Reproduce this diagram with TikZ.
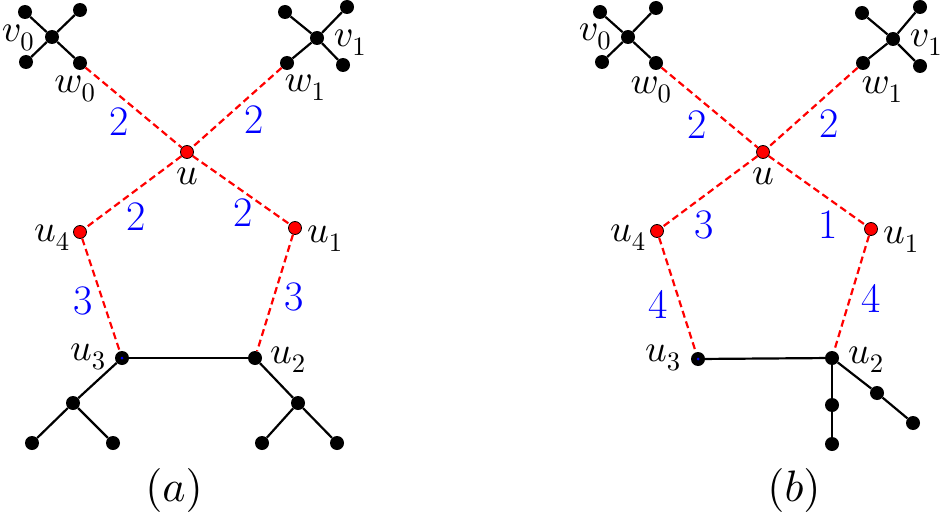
\documentclass[tikz,border=0pt]{standalone}
\DeclareFontFamily{OML}{cmm}{\skewchar\font127 }
\DeclareFontShape{OML}{cmm}{m}{it}{<->cmmi10}{}
\DeclareFontFamily{OT1}{cmr}{\hyphenchar\font45 }
\DeclareFontShape{OT1}{cmr}{m}{n}{<->cmr10}{}
\begin{document}
\begin{tikzpicture}[x=1pt,y=-1pt,
  bdot/.style={circle,fill=black,inner sep=0pt,minimum size=14pt},
  rdot/.style={circle,fill=red,draw=black,line width=0.8pt,inner sep=0pt,minimum size=13pt},
  bedge/.style={line width=2.2pt},
  redge/.style={red,line width=2.2pt,dash pattern=on 7pt off 4pt},
  lab/.style={font=\fontsize{38}{40}\selectfont,inner sep=0pt},
  num/.style={text=blue,font=\fontsize{42}{44}\selectfont,inner sep=0pt},
  sublab/.style={font=\fontsize{44}{46}\selectfont,inner sep=0pt}]
\useasboundingbox (0,0) rectangle (944,516);
% ---------------- panel (a)
\node[bdot] (av0) at (52,37) {};
\node[bdot] (av0a) at (25,12) {};
\node[bdot] (av0b) at (80,10) {};
\node[bdot] (av0c) at (26,62) {};
\node[bdot] (aw0) at (80,63) {};
\node[bdot] (av1) at (317,38) {};
\node[bdot] (av1a) at (285,12) {};
\node[bdot] (av1b) at (347,7) {};
\node[bdot] (aw1) at (287,63) {};
\node[bdot] (av1c) at (343,65) {};
\node[rdot] (au) at (187,152) {};
\node[rdot] (au4) at (80,232) {};
\node[rdot] (au1) at (295,228) {};
\node[bdot] (au3) at (122,358) {};
\node[bdot] (au2) at (255,358) {};
\node[bdot] (ac3) at (73,403) {};
\node[bdot] (al3a) at (32,443) {};
\node[bdot] (al3b) at (113,443) {};
\node[bdot] (ac2) at (298,403) {};
\node[bdot] (al2a) at (262,443) {};
\node[bdot] (al2b) at (337,443) {};
\fill[blue] (au3) circle (1.5pt);
\draw[bedge] (av0a) -- (av0) -- (aw0) (av0b) -- (av0) -- (av0c);
\draw[bedge] (av1a) -- (av1) -- (av1c) (av1b) -- (av1) -- (aw1);
\draw[bedge] (au3) -- (au2);
\draw[bedge] (au3) -- (ac3) -- (al3a) (ac3) -- (al3b);
\draw[bedge] (au2) -- (ac2) -- (al2a) (ac2) -- (al2b);
\draw[redge] (aw0) -- (au) (aw1) -- (au) (au) -- (au4) (au) -- (au1) (au4) -- (au3) (au1) -- (au2);
\node[lab] (lav0) at (18,38) {$v_0$};
\node[lab] (law0) at (75,89) {$w_0$};
\node[lab] (lav1) at (350,43) {$v_1$};
\node[lab] (law1) at (305,88) {$w_1$};
\node[lab] (lau) at (187,176) {$u$};
\node[lab] (lau4) at (52,238) {$u_4$};
\node[lab] (lau1) at (325,239) {$u_1$};
\node[lab] (lau3) at (88,357) {$u_3$};
\node[lab] (lau2) at (288,360) {$u_2$};
\node[num] (an1) at (119,122) {2};
\node[num] (an2) at (254,120) {2};
\node[num] (an3) at (136,217) {2};
\node[num] (an4) at (243,213) {2};
\node[num] (an5) at (83,301) {3};
\node[num] (an6) at (294,297) {3};
\node[sublab] (capa) at (174,490) {$(a)$};
% ---------------- panel (b)
\node[bdot] (bv0) at (628,37) {};
\node[bdot] (bv0a) at (600,12) {};
\node[bdot] (bv0b) at (656,8) {};
\node[bdot] (bv0c) at (602,62) {};
\node[bdot] (bw0) at (656,63) {};
\node[bdot] (bv1) at (893,39) {};
\node[bdot] (bv1a) at (862,13) {};
\node[bdot] (bv1b) at (920,7) {};
\node[bdot] (bw1) at (863,63) {};
\node[bdot] (bv1c) at (920,66) {};
\node[rdot] (bu) at (763,152) {};
\node[rdot] (bu4) at (657,231) {};
\node[rdot] (bu1) at (871,229) {};
\node[bdot] (bu3) at (698,359) {};
\node[bdot] (bu2) at (832,358) {};
\node[bdot] (bd1) at (832,405) {};
\node[bdot] (bd2) at (832,444) {};
\node[bdot] (be1) at (877,393) {};
\node[bdot] (be2) at (913,423) {};
\fill[blue] (bu3) circle (1.5pt);
\draw[bedge] (bv0a) -- (bv0) -- (bw0) (bv0b) -- (bv0) -- (bv0c);
\draw[bedge] (bv1a) -- (bv1) -- (bv1c) (bv1b) -- (bv1) -- (bw1);
\draw[bedge] (bu3) -- (bu2);
\draw[bedge] (bu2) -- (bd1) -- (bd2);
\draw[bedge] (bu2) -- (be1) -- (be2);
\draw[redge] (bw0) -- (bu) (bw1) -- (bu) (bu) -- (bu4) (bu) -- (bu1) (bu4) -- (bu3) (bu1) -- (bu2);
\node[lab] (lbv0) at (595,37) {$v_0$};
\node[lab] (lbw0) at (651,90) {$w_0$};
\node[lab] (lbv1) at (926,43) {$v_1$};
\node[lab] (lbw1) at (882,90) {$w_1$};
\node[lab] (lbu) at (763,176) {$u$};
\node[lab] (lbu4) at (628,238) {$u_4$};
\node[lab] (lbu1) at (901,240) {$u_1$};
\node[lab] (lbu3) at (663,358) {$u_3$};
\node[lab] (lbu2) at (866,360) {$u_2$};
\node[num] (bn1) at (697,125) {2};
\node[num] (bn2) at (829,124) {2};
\node[num] (bn3) at (704,225) {3};
\node[num] (bn4) at (828,225) {1};
\node[num] (bn5) at (658,304) {4};
\node[num] (bn6) at (871,298) {4};
\node[sublab] (capb) at (794,490) {$(b)$};
\end{tikzpicture}
\end{document}
